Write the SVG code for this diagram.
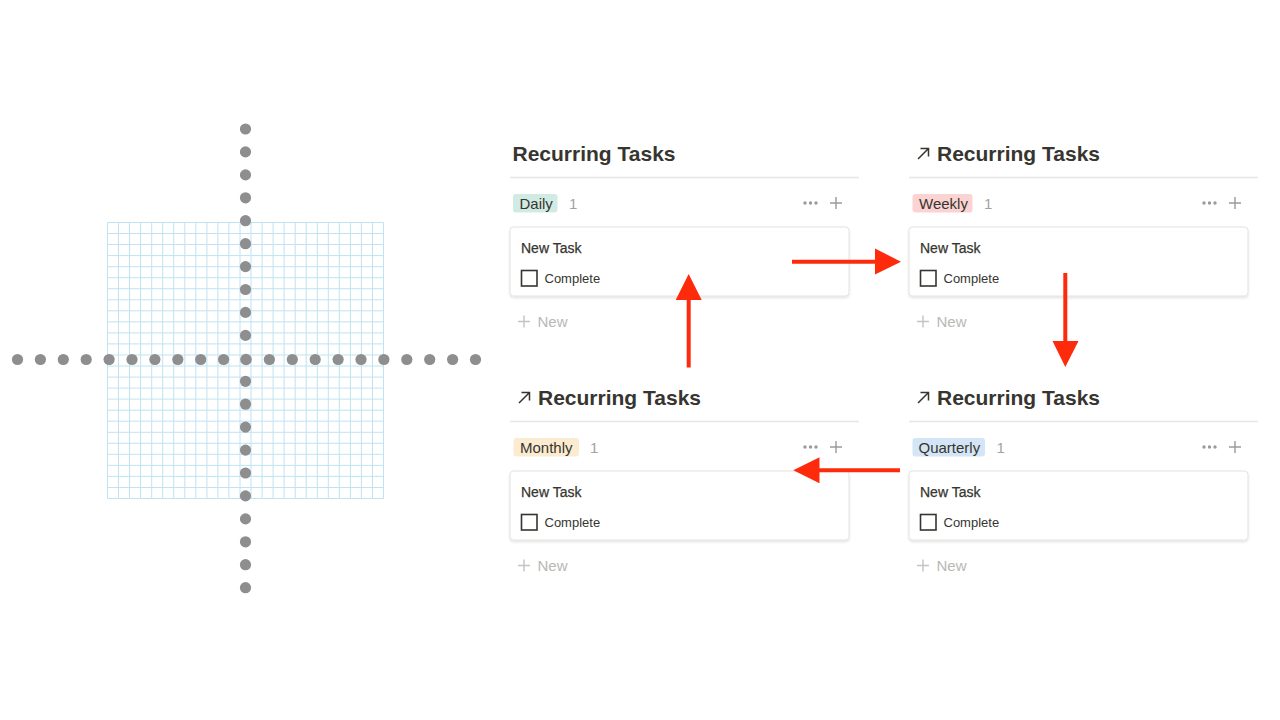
<svg xmlns="http://www.w3.org/2000/svg" width="1280" height="720" viewBox="0 0 1280 720">
<defs>
<style>
.title{font-family:"Liberation Sans",Arial,sans-serif;font-size:21px;font-weight:700;fill:#37352f}
.tag{font-family:"Liberation Sans",Arial,sans-serif;font-size:15px;fill:#37352f}
.cnt{font-family:"Liberation Sans",Arial,sans-serif;font-size:15px;fill:#a3a29e}
.task{font-family:"Liberation Sans",Arial,sans-serif;font-size:14px;fill:#37352f;stroke:#37352f;stroke-width:0.25}
.comp{font-family:"Liberation Sans",Arial,sans-serif;font-size:13px;fill:#37352f}
.new{font-family:"Liberation Sans",Arial,sans-serif;font-size:15px;fill:#b9b8b5}
.sep{stroke:#e6e6e5;stroke-width:1.5}
.card{fill:#ffffff;stroke:#e2e2e0;stroke-width:1;filter:url(#sh)}
.cb{fill:none;stroke:#37352f;stroke-width:1.6}
.ic{fill:none;stroke:#9b9a97;stroke-width:1.4}
.icn{fill:none;stroke:#c4c3c0;stroke-width:1.4}
.link{fill:none;stroke:#37352f;stroke-width:1.5}
.dot{fill:#8e8e8e}
.gl{stroke:#bfe3f2;stroke-width:1}
.arr{stroke:#fe2a0c;stroke-width:4}
.ah{fill:#fe2a0c}
</style>
<filter id="sh" x="-5%" y="-10%" width="110%" height="130%">
<feDropShadow dx="0" dy="1.5" stdDeviation="1.2" flood-color="#000" flood-opacity="0.12"/>
</filter>
<g id="dots3">
<circle cx="805" cy="203" r="1.7" fill="#9b9a97"/>
<circle cx="810.5" cy="203" r="1.7" fill="#9b9a97"/>
<circle cx="816" cy="203" r="1.7" fill="#9b9a97"/>
<path class="ic" d="M830 203 H842 M836 197 V209"/>
</g>
</defs>
<rect width="1280" height="720" fill="#ffffff"/>

<g id="grid">
<g class="gl">
<line x1="107.5" y1="222.5" x2="107.5" y2="498.5"/><line x1="118.5" y1="222.5" x2="118.5" y2="498.5"/><line x1="129.5" y1="222.5" x2="129.5" y2="498.5"/><line x1="140.6" y1="222.5" x2="140.6" y2="498.5"/><line x1="151.7" y1="222.5" x2="151.7" y2="498.5"/><line x1="162.7" y1="222.5" x2="162.7" y2="498.5"/><line x1="173.7" y1="222.5" x2="173.7" y2="498.5"/><line x1="184.8" y1="222.5" x2="184.8" y2="498.5"/><line x1="195.8" y1="222.5" x2="195.8" y2="498.5"/><line x1="206.9" y1="222.5" x2="206.9" y2="498.5"/><line x1="217.9" y1="222.5" x2="217.9" y2="498.5"/><line x1="228.9" y1="222.5" x2="228.9" y2="498.5"/><line x1="240" y1="222.5" x2="240" y2="498.5"/><line x1="251" y1="222.5" x2="251" y2="498.5"/><line x1="262.1" y1="222.5" x2="262.1" y2="498.5"/><line x1="273.1" y1="222.5" x2="273.1" y2="498.5"/><line x1="284.1" y1="222.5" x2="284.1" y2="498.5"/><line x1="295.2" y1="222.5" x2="295.2" y2="498.5"/><line x1="306.2" y1="222.5" x2="306.2" y2="498.5"/><line x1="317.3" y1="222.5" x2="317.3" y2="498.5"/><line x1="328.3" y1="222.5" x2="328.3" y2="498.5"/><line x1="339.3" y1="222.5" x2="339.3" y2="498.5"/><line x1="350.4" y1="222.5" x2="350.4" y2="498.5"/><line x1="361.4" y1="222.5" x2="361.4" y2="498.5"/><line x1="372.5" y1="222.5" x2="372.5" y2="498.5"/><line x1="383.5" y1="222.5" x2="383.5" y2="498.5"/>
<line y1="222.5" x1="107.5" y2="222.5" x2="383.5"/><line y1="233.5" x1="107.5" y2="233.5" x2="383.5"/><line y1="244.5" x1="107.5" y2="244.5" x2="383.5"/><line y1="255.6" x1="107.5" y2="255.6" x2="383.5"/><line y1="266.7" x1="107.5" y2="266.7" x2="383.5"/><line y1="277.7" x1="107.5" y2="277.7" x2="383.5"/><line y1="288.7" x1="107.5" y2="288.7" x2="383.5"/><line y1="299.8" x1="107.5" y2="299.8" x2="383.5"/><line y1="310.8" x1="107.5" y2="310.8" x2="383.5"/><line y1="321.9" x1="107.5" y2="321.9" x2="383.5"/><line y1="332.9" x1="107.5" y2="332.9" x2="383.5"/><line y1="343.9" x1="107.5" y2="343.9" x2="383.5"/><line y1="355" x1="107.5" y2="355" x2="383.5"/><line y1="366" x1="107.5" y2="366" x2="383.5"/><line y1="377.1" x1="107.5" y2="377.1" x2="383.5"/><line y1="388.1" x1="107.5" y2="388.1" x2="383.5"/><line y1="399.1" x1="107.5" y2="399.1" x2="383.5"/><line y1="410.2" x1="107.5" y2="410.2" x2="383.5"/><line y1="421.2" x1="107.5" y2="421.2" x2="383.5"/><line y1="432.3" x1="107.5" y2="432.3" x2="383.5"/><line y1="443.3" x1="107.5" y2="443.3" x2="383.5"/><line y1="454.3" x1="107.5" y2="454.3" x2="383.5"/><line y1="465.4" x1="107.5" y2="465.4" x2="383.5"/><line y1="476.4" x1="107.5" y2="476.4" x2="383.5"/><line y1="487.5" x1="107.5" y2="487.5" x2="383.5"/><line y1="498.5" x1="107.5" y2="498.5" x2="383.5"/>
</g>
<g class="dot">
<circle cx="245.5" cy="129" r="5.6"/><circle cx="245.5" cy="151.9" r="5.6"/><circle cx="245.5" cy="174.9" r="5.6"/><circle cx="245.5" cy="197.8" r="5.6"/><circle cx="245.5" cy="220.7" r="5.6"/><circle cx="245.5" cy="243.7" r="5.6"/><circle cx="245.5" cy="266.6" r="5.6"/><circle cx="245.5" cy="289.5" r="5.6"/><circle cx="245.5" cy="312.4" r="5.6"/><circle cx="245.5" cy="335.4" r="5.6"/><circle cx="245.5" cy="381.3" r="5.6"/><circle cx="245.5" cy="404.2" r="5.6"/><circle cx="245.5" cy="427.1" r="5.6"/><circle cx="245.5" cy="450.1" r="5.6"/><circle cx="245.5" cy="473" r="5.6"/><circle cx="245.5" cy="495.9" r="5.6"/><circle cx="245.5" cy="518.9" r="5.6"/><circle cx="245.5" cy="541.8" r="5.6"/><circle cx="245.5" cy="564.7" r="5.6"/><circle cx="245.5" cy="587.7" r="5.6"/>
<circle cx="17.5" cy="359.5" r="5.6"/><circle cx="40.4" cy="359.5" r="5.6"/><circle cx="63.3" cy="359.5" r="5.6"/><circle cx="86.2" cy="359.5" r="5.6"/><circle cx="109.1" cy="359.5" r="5.6"/><circle cx="132" cy="359.5" r="5.6"/><circle cx="154.9" cy="359.5" r="5.6"/><circle cx="177.8" cy="359.5" r="5.6"/><circle cx="200.7" cy="359.5" r="5.6"/><circle cx="223.6" cy="359.5" r="5.6"/><circle cx="246" cy="359.5" r="5.8"/><circle cx="269.4" cy="359.5" r="5.6"/><circle cx="292.3" cy="359.5" r="5.6"/><circle cx="315.2" cy="359.5" r="5.6"/><circle cx="338.1" cy="359.5" r="5.6"/><circle cx="361" cy="359.5" r="5.6"/><circle cx="383.9" cy="359.5" r="5.6"/><circle cx="406.8" cy="359.5" r="5.6"/><circle cx="429.7" cy="359.5" r="5.6"/><circle cx="452.6" cy="359.5" r="5.6"/><circle cx="475.5" cy="359.5" r="5.6"/>
</g>
</g>

<g id="daily">
<text class="title" x="512.5" y="161">Recurring Tasks</text>
<line class="sep" x1="510" y1="177.5" x2="859" y2="177.5"/>
<rect x="513" y="194" width="44.5" height="18.5" rx="3" fill="#d1ebe4"/>
<text class="tag" x="519.5" y="208.5">Daily</text>
<text class="cnt" x="569" y="208.5">1</text>
<use href="#dots3"/>
<rect class="card" x="510" y="227" width="339" height="69" rx="3.5"/>
<text class="task" x="521" y="252.5">New Task</text>
<rect class="cb" x="521.5" y="270.5" width="15.5" height="15.5"/>
<text class="comp" x="544.5" y="282.5">Complete</text>
<path class="icn" d="M518 321.5 H530 M524 315.5 V327.5"/>
<text class="new" x="537.5" y="327">New</text>
</g>

<g id="weekly" transform="translate(399,0)">
<path class="link" d="M519 159 L529.5 148.5 M521.5 148.5 H529.5 V156.5"/>
<text class="title" x="538" y="161">Recurring Tasks</text>
<line class="sep" x1="510" y1="177.5" x2="859" y2="177.5"/>
<rect x="513.5" y="194" width="60" height="18.5" rx="3" fill="#fbd3d3"/>
<text class="tag" x="520" y="208.5">Weekly</text>
<text class="cnt" x="585" y="208.5">1</text>
<use href="#dots3"/>
<rect class="card" x="510" y="227" width="339" height="69" rx="3.5"/>
<text class="task" x="521" y="252.5">New Task</text>
<rect class="cb" x="521.5" y="270.5" width="15.5" height="15.5"/>
<text class="comp" x="544.5" y="282.5">Complete</text>
<path class="icn" d="M518 321.5 H530 M524 315.5 V327.5"/>
<text class="new" x="537.5" y="327">New</text>
</g>

<g id="monthly" transform="translate(0,244)">
<path class="link" d="M519 159 L529.5 148.5 M521.5 148.5 H529.5 V156.5"/>
<text class="title" x="538" y="161">Recurring Tasks</text>
<line class="sep" x1="510" y1="177.5" x2="859" y2="177.5"/>
<rect x="513.5" y="194" width="65.5" height="18.5" rx="3" fill="#fbecd1"/>
<text class="tag" x="520" y="208.5">Monthly</text>
<text class="cnt" x="590" y="208.5">1</text>
<use href="#dots3"/>
<rect class="card" x="510" y="227" width="339" height="69" rx="3.5"/>
<text class="task" x="521" y="252.5">New Task</text>
<rect class="cb" x="521.5" y="270.5" width="15.5" height="15.5"/>
<text class="comp" x="544.5" y="282.5">Complete</text>
<path class="icn" d="M518 321.5 H530 M524 315.5 V327.5"/>
<text class="new" x="537.5" y="327">New</text>
</g>

<g id="quarterly" transform="translate(399,244)">
<path class="link" d="M519 159 L529.5 148.5 M521.5 148.5 H529.5 V156.5"/>
<text class="title" x="538" y="161">Recurring Tasks</text>
<line class="sep" x1="510" y1="177.5" x2="859" y2="177.5"/>
<rect x="513.5" y="194" width="72.5" height="18.5" rx="3" fill="#d3e5f6"/>
<text class="tag" x="519.5" y="208.5">Quarterly</text>
<text class="cnt" x="597.5" y="208.5">1</text>
<use href="#dots3"/>
<rect class="card" x="510" y="227" width="339" height="69" rx="3.5"/>
<text class="task" x="521" y="252.5">New Task</text>
<rect class="cb" x="521.5" y="270.5" width="15.5" height="15.5"/>
<text class="comp" x="544.5" y="282.5">Complete</text>
<path class="icn" d="M518 321.5 H530 M524 315.5 V327.5"/>
<text class="new" x="537.5" y="327">New</text>
</g>

<g id="connectors">
<line class="arr" x1="792" y1="261.7" x2="877" y2="261.7"/>
<polygon class="ah" points="875,248.5 901,261.7 875,274.5"/>
<line class="arr" x1="1065.3" y1="273" x2="1065.3" y2="343"/>
<polygon class="ah" points="1052.5,341 1065.3,367 1078.5,341"/>
<line class="arr" x1="900" y1="470.3" x2="817" y2="470.3"/>
<polygon class="ah" points="819.5,457.3 793.3,470.3 819.5,483.3"/>
<line class="arr" x1="688.7" y1="367.5" x2="688.7" y2="298"/>
<polygon class="ah" points="675.7,300 688.7,274 701.7,300"/>
</g>
</svg>
